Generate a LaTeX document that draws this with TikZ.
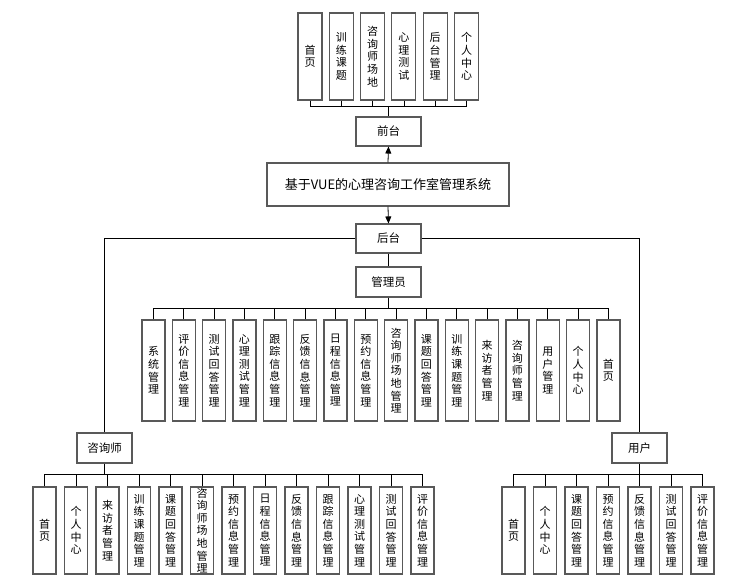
\documentclass[tikz,border=0pt]{standalone}
\usepackage{fontspec}
\setmainfont{Noto Sans CJK SC}
\usetikzlibrary{arrows.meta}
\begin{document}
\begin{tikzpicture}[x=1pt,y=-1pt,
  box/.style={draw=black!65,line width=1.1pt,fill=white,inner sep=0pt,font=\fontsize{11.5}{14}\selectfont},
  vbox/.style={box,minimum width=23pt,align=center,font=\fontsize{11}{12.6}\selectfont},
  link/.style={draw=black,line width=0.8pt},
  arr/.style={link,-{Triangle[length=7pt,width=6pt]}}]
\useasboundingbox (0,0) rectangle (756,580);
% centre column
\node[box,minimum width=65pt,minimum height=29pt] (qt) at (388.5,131.5) {前台};
\node[box,minimum width=242pt,minimum height=43pt,font=\fontsize{13}{15}\selectfont] (main) at (388,184.5) {基于VUE的心理咨询工作室管理系统};
\node[box,minimum width=65pt,minimum height=29pt] (ht) at (388.5,238.5) {后台};
\node[box,minimum width=65pt,minimum height=30pt] (gl) at (388.5,282) {管理员};
\node[box,minimum width=55pt,minimum height=30pt] (zx) at (104.5,448) {咨询师};
\node[box,minimum width=55pt,minimum height=30pt] (yh) at (639.5,448) {用户};
% top row
\foreach \t [count=\i from 0] in {首\\页,训\\练\\课\\题,咨\\询\\师\\场\\地,心\\理\\测\\试,后\\台\\管\\理,个\\人\\中\\心}
  \node[vbox,minimum width=24pt,minimum height=87pt] (t\i) at ({310+31.3*\i},56.5) {\t};
\coordinate (tb) at (388.5,106);
\foreach \i in {0,...,5} \draw[link] (t\i.south) |- (tb);
\draw[link] (tb) -- (qt.north);
\draw[arr] (main.north) -- (qt.south);
\draw[arr] (main.south) -- (ht.north);
\draw[link] (ht.west) -| (zx.north);
\draw[link] (ht.east) -| (yh.north);
\draw[link] (ht.south) -- (gl.north);
% admin row
\foreach \t [count=\i from 0] in {系\\统\\管\\理,评\\价\\信\\息\\管\\理,测\\试\\回\\答\\管\\理,心\\理\\测\\试\\管\\理,跟\\踪\\信\\息\\管\\理,反\\馈\\信\\息\\管\\理,日\\程\\信\\息\\管\\理,预\\约\\信\\息\\管\\理,咨\\询\\师\\场\\地\\管\\理,课\\题\\回\\答\\管\\理,训\\练\\课\\题\\管\\理,来\\访\\者\\管\\理,咨\\询\\师\\管\\理,用\\户\\管\\理,个\\人\\中\\心,首\\页}
  \node[vbox,minimum height=101pt] (a\i) at ({153.5+30.33*\i},370.5) {\t};
\coordinate (ab) at (388.5,308);
\draw[link] (gl.south) -- (ab);
\foreach \i in {0,...,15} \draw[link] (a\i.north) |- (ab);
% consultant row
\foreach \t [count=\i from 0] in {首\\页,个\\人\\中\\心,来\\访\\者\\管\\理,训\\练\\课\\题\\管\\理,课\\题\\回\\答\\管\\理,咨\\询\\师\\场\\地\\管\\理,预\\约\\信\\息\\管\\理,日\\程\\信\\息\\管\\理,反\\馈\\信\\息\\管\\理,跟\\踪\\信\\息\\管\\理,心\\理\\测\\试\\管\\理,测\\试\\回\\答\\管\\理,评\\价\\信\\息\\管\\理}
  \node[vbox,minimum height=87pt] (c\i) at ({44.5+31.5*\i},530.5) {\t};
\coordinate (cb) at (104.5,474);
\draw[link] (zx.south) -- (cb);
\foreach \i in {0,...,12} \draw[link] (c\i.north) |- (cb);
% user row
\foreach \t [count=\i from 0] in {首\\页,个\\人\\中\\心,课\\题\\回\\答\\管\\理,预\\约\\信\\息\\管\\理,反\\馈\\信\\息\\管\\理,测\\试\\回\\答\\管\\理,评\\价\\信\\息\\管\\理}
  \node[vbox,minimum height=87pt] (u\i) at ({513.5+31.5*\i},530.5) {\t};
\coordinate (ub) at (639.5,474);
\draw[link] (yh.south) -- (ub);
\foreach \i in {0,...,6} \draw[link] (u\i.north) |- (ub);
\end{tikzpicture}
\end{document}
